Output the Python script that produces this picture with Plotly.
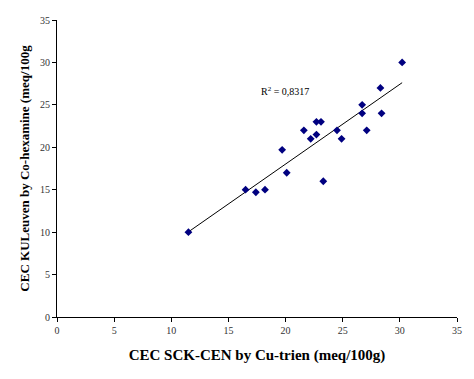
import numpy as np
import plotly.graph_objects as go

cu_trien = [11.5, 16.5, 17.4, 18.2, 19.7, 20.1, 21.6, 22.2, 22.7, 22.7, 23.1, 23.3,
            24.5, 24.9, 26.7, 26.7, 27.1, 28.3, 28.4, 30.2]
co_hex = [10.0, 15.0, 14.7, 15.0, 19.7, 17.0, 22.0, 21.0, 21.5, 23.0, 23.0, 16.0,
          22.0, 21.0, 25.0, 24.0, 22.0, 27.0, 24.0, 30.0]
ticks = [0, 5, 10, 15, 20, 25, 30, 35]

x = np.array(cu_trien)
y = np.array(co_hex)
slope, intercept = np.polyfit(x, y, 1)
fit_x = np.array([x.min(), x.max()])
fit_y = slope * fit_x + intercept

fig = go.Figure()
fig.add_trace(go.Scatter(x=fit_x, y=fit_y, mode="lines",
                         line=dict(color="black", width=1), hoverinfo="skip",
                         showlegend=False))
fig.add_trace(go.Scatter(x=cu_trien, y=co_hex, mode="markers",
                         marker=dict(symbol="diamond", size=6, color="#000080"),
                         showlegend=False))

fig.add_annotation(x=19.95, y=26.6, xref="x", yref="y",
                   text="R<sup>2</sup> = 0,8317", showarrow=False,
                   font=dict(family="Liberation Serif", size=10, color="black"))

axis_common = dict(range=[0, 35], tickvals=ticks, showgrid=False, zeroline=False,
                   showline=True, linecolor="black", linewidth=1,
                   ticks="outside", ticklen=4, tickcolor="black", automargin=False,
                   tickfont=dict(family="Liberation Serif", size=10, color="#333333"))

fig.update_xaxes(**axis_common,
                 title=dict(text="<b>CEC SCK-CEN by Cu-trien (meq/100g)</b>",
                            font=dict(family="Liberation Serif", size=15, color="black"),
                            standoff=14))
fig.update_yaxes(**axis_common,
                 title=dict(text="<b>CEC KULeuven by Co-hexamine (meq/100g</b>",
                            font=dict(family="Liberation Serif", size=13, color="black"),
                            standoff=7))

fig.update_layout(width=466, height=371, plot_bgcolor="white", paper_bgcolor="white",
                  margin=dict(l=49, r=17, t=12, b=62))

fig.write_html("out.html")
